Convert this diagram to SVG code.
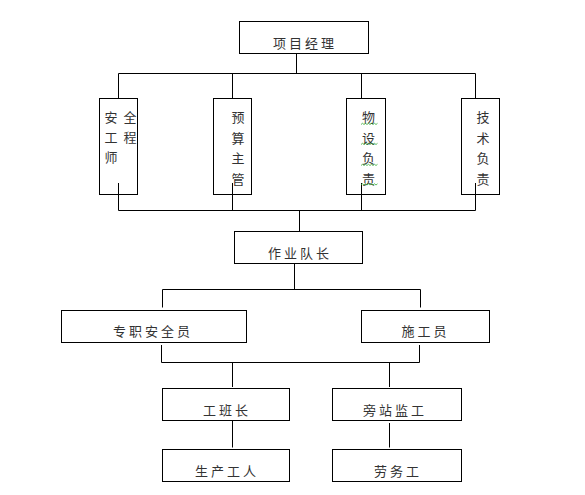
<svg xmlns="http://www.w3.org/2000/svg" width="585" height="495" viewBox="0 0 585 495">
<style>
rect{fill:none;stroke:#000;stroke-width:1}
line{stroke:#000;stroke-width:1}
text{font-family:"Noto Sans CJK SC","Noto Sans",sans-serif;font-size:13px;fill:#333;letter-spacing:3px}
.v{letter-spacing:0}
.w{fill:none;stroke:#3a3;stroke-width:0.8}
</style>
<rect x="0" y="0" width="585" height="495" style="fill:#fff;stroke:none"/>
<g id="connectors">
<line x1="296.5" y1="53.5" x2="296.5" y2="73.5"/>
<line x1="118.5" y1="73.5" x2="475.5" y2="73.5"/>
<line x1="118.5" y1="73.5" x2="118.5" y2="98.5"/>
<line x1="232.5" y1="73.5" x2="232.5" y2="98.5"/>
<line x1="361.5" y1="73.5" x2="361.5" y2="98.5"/>
<line x1="475.5" y1="73.5" x2="475.5" y2="98.5"/>
<line x1="118.5" y1="183" x2="118.5" y2="210.5"/>
<line x1="232.5" y1="183" x2="232.5" y2="210.5"/>
<line x1="361.5" y1="183" x2="361.5" y2="210.5"/>
<line x1="475.5" y1="183" x2="475.5" y2="210.5"/>
<line x1="118.5" y1="210.5" x2="475.5" y2="210.5"/>
<line x1="299.5" y1="210.5" x2="299.5" y2="231.5"/>
<line x1="294.5" y1="263.5" x2="294.5" y2="289.5"/>
<line x1="162.5" y1="289.5" x2="420.5" y2="289.5"/>
<line x1="162.5" y1="289.5" x2="162.5" y2="307.5"/>
<line x1="420.5" y1="289.5" x2="420.5" y2="307.5"/>
<line x1="161.5" y1="345" x2="161.5" y2="362.5"/>
<line x1="419.5" y1="345" x2="419.5" y2="362.5"/>
<line x1="161.5" y1="362.5" x2="419.5" y2="362.5"/>
<line x1="232.5" y1="362.5" x2="232.5" y2="387"/>
<line x1="389.5" y1="362.5" x2="389.5" y2="387"/>
<line x1="232.5" y1="420.5" x2="232.5" y2="447.5"/>
<line x1="389.5" y1="423" x2="389.5" y2="447.5"/>
</g>
<g id="pm">
<rect x="239.5" y="21.5" width="129" height="32"/>
<text x="273" y="47.5">项目经理</text>
</g>
<g id="safety-engineer">
<rect x="99.5" y="98.5" width="38" height="96"/>
<text class="v" x="104.5" y="121.5"><tspan>安</tspan><tspan x="104.5" y="141.5">工</tspan><tspan x="104.5" y="162">师</tspan></text>
<text class="v" x="123.5" y="121.5"><tspan>全</tspan><tspan x="123.5" y="141.5">程</tspan></text>
</g>
<g id="budget">
<rect x="213.5" y="98.5" width="38" height="96"/>
<text class="v" x="231.5" y="122"><tspan>预</tspan><tspan x="231.5" y="142.5">算</tspan><tspan x="231.5" y="163">主</tspan><tspan x="231.5" y="183.5">管</tspan></text>
</g>
<g id="material">
<rect x="346.5" y="98.5" width="39" height="96"/>
<text class="v" x="362" y="122"><tspan>物</tspan><tspan x="362" y="142.5">设</tspan><tspan x="362" y="163">负</tspan><tspan x="362" y="183.5">责</tspan></text>
<path class="w" d="M361 124.5l1.5 -1.2 1.5 1.2 1.5 -1.2 1.5 1.2 1.5 -1.2 1.5 1.2 1.5 -1.2 1.5 1.2 1.5 -1.2 1.5 1.2 1.5 -1.2"/>
<path class="w" d="M361 144.5l1.5 -1.2 1.5 1.2 1.5 -1.2 1.5 1.2 1.5 -1.2 1.5 1.2 1.5 -1.2 1.5 1.2 1.5 -1.2 1.5 1.2 1.5 -1.2"/>
<path class="w" d="M361 165.5l1.5 -1.2 1.5 1.2 1.5 -1.2 1.5 1.2 1.5 -1.2 1.5 1.2 1.5 -1.2 1.5 1.2 1.5 -1.2 1.5 1.2 1.5 -1.2"/>
<path class="w" d="M361 185l1.5 -1.2 1.5 1.2 1.5 -1.2 1.5 1.2 1.5 -1.2 1.5 1.2 1.5 -1.2 1.5 1.2 1.5 -1.2 1.5 1.2 1.5 -1.2"/>
</g>
<g id="tech">
<rect x="461.5" y="98.5" width="38" height="96"/>
<text class="v" x="476.5" y="122"><tspan>技</tspan><tspan x="476.5" y="142.5">术</tspan><tspan x="476.5" y="163">负</tspan><tspan x="476.5" y="183.5">责</tspan></text>
</g>
<g id="team-leader">
<rect x="234.5" y="231.5" width="128" height="32"/>
<text x="268" y="257.5">作业队长</text>
</g>
<g id="safety-officer">
<rect x="61.5" y="310.5" width="185" height="32"/>
<text x="113" y="336">专职安全员</text>
</g>
<g id="construction">
<rect x="361.5" y="310.5" width="128" height="32"/>
<text x="401.5" y="336">施工员</text>
</g>
<g id="foreman">
<rect x="162.5" y="388.5" width="127" height="32"/>
<text x="203" y="415">工班长</text>
</g>
<g id="supervisor">
<rect x="332.5" y="388.5" width="129" height="32"/>
<text x="363" y="415">旁站监工</text>
</g>
<g id="workers">
<rect x="162.5" y="449.5" width="127" height="32"/>
<text x="195" y="475.5">生产工人</text>
</g>
<g id="labor">
<rect x="332.5" y="449.5" width="129" height="32"/>
<text x="374" y="475.5">劳务工</text>
</g>
</svg>
